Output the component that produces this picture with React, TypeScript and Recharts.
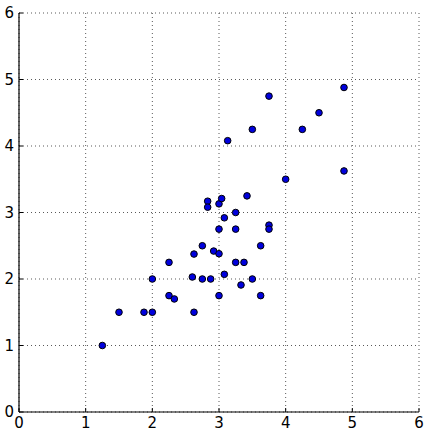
import React from "react";
import { ScatterChart, Scatter, XAxis, YAxis, CartesianGrid } from "recharts";

const xValues = [
  1.25, 1.5, 1.875, 2.0, 2.0, 2.25, 2.33, 2.25, 2.625, 2.6, 2.625, 2.75, 2.75, 2.875,
  3.0, 2.92, 3.0, 3.0, 2.83, 2.83, 3.0, 3.04, 3.08, 3.08, 3.25, 3.25, 3.25, 3.375,
  3.33, 3.42, 3.5, 3.625, 3.625, 3.75, 3.75, 3.13, 3.5, 3.75, 4.0, 4.25, 4.5, 4.875, 4.875,
];
const yValues = [
  1.0, 1.5, 1.5, 1.5, 2.0, 1.75, 1.7, 2.25, 1.5, 2.03, 2.375, 2.5, 2.0, 2.0,
  1.75, 2.42, 2.38, 2.75, 3.17, 3.08, 3.13, 3.21, 2.92, 2.07, 3.0, 2.75, 2.25, 2.25,
  1.91, 3.25, 2.0, 2.5, 1.75, 2.81, 2.75, 4.08, 4.25, 4.75, 3.5, 4.25, 4.5, 4.88, 3.625,
];
const tickValues = [0, 1, 2, 3, 4, 5, 6];

const data = xValues.map((x, i) => ({ x, y: yValues[i] }));

const Dot = (props: any) => {
  const { cx, cy } = props;
  return <circle cx={cx} cy={cy} r={3.3} fill="#0000dd" stroke="#000" strokeWidth={1} />;
};

const tickStyle = { fontFamily: "DejaVu Sans", fontSize: 15, fill: "#000" };

export default function App() {
  return (
    <div style={{ position: "absolute", left: 0, top: 0, background: "#fff" }}>
      <ScatterChart
        width={428}
        height={438}
        margin={{ top: 13, right: 9, bottom: 0, left: 0 }}
      >
        <CartesianGrid
          stroke="#000"
          strokeDasharray="1 3"
          strokeOpacity={0.65}
        />
        <XAxis
          type="number"
          dataKey="x"
          domain={[0, 6]}
          ticks={tickValues}
          tickLine={{ stroke: "#000", strokeWidth: 1 }}
          tickSize={-4}
          tickMargin={9}
          height={26}
          axisLine={{ stroke: "#000", strokeWidth: 1.2 }}
          tick={tickStyle}
          interval={0}
        />
        <YAxis
          type="number"
          dataKey="y"
          domain={[0, 6]}
          ticks={tickValues}
          tickLine={{ stroke: "#000", strokeWidth: 1 }}
          tickSize={-4}
          tickMargin={9}
          width={19}
          axisLine={{ stroke: "#000", strokeWidth: 1.2 }}
          tick={tickStyle}
          interval={0}
        />
        <Scatter data={data} shape={Dot} isAnimationActive={false} />
      </ScatterChart>
    </div>
  );
}
